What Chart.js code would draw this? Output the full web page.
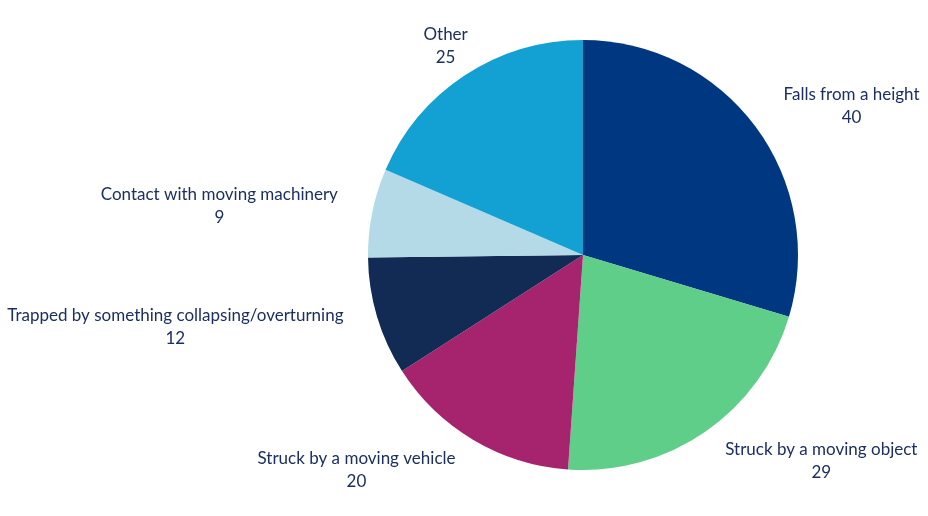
<!DOCTYPE html>
<html>
<head>
<meta charset="utf-8">
<script src="https://cdn.jsdelivr.net/npm/chart.js@4"></script>
<style>
  html, body { margin: 0; padding: 0; background: #fff; }
  #wrap { width: 928px; height: 516px; }
</style>
</head>
<body>
<div id="wrap"><canvas id="pie" width="928" height="516"></canvas></div>
<script>
const categories = [
  'Falls from a height',
  'Struck by a moving object',
  'Struck by a moving vehicle',
  'Trapped by something collapsing/overturning',
  'Contact with moving machinery',
  'Other'
];
const values = [40, 29, 20, 12, 9, 25];
const colours = ['#003781', '#5FCE89', '#A6246E', '#122B54', '#B3DAE6', '#13A0D3'];

// labels sitting outside each slice: name on first line, value below
const outsideLabels = {
  id: 'outsideLabels',
  afterDraw(chart) {
    const ctx = chart.ctx;
    const meta = chart.getDatasetMeta(0);
    ctx.save();
    ctx.font = '17px Lato, "Open Sans", sans-serif';
    ctx.fillStyle = '#1B2F63';
    ctx.textBaseline = 'middle';
    const lineH = 23;
    meta.data.forEach((arc, i) => {
      const mid = (arc.startAngle + arc.endAngle) / 2;
      const r = arc.outerRadius + 35;
      const x = arc.x + Math.cos(mid) * r;
      const y = arc.y + Math.sin(mid) * r;
      const up = -Math.sin(mid);
      let align;
      if (up > 0.8) align = 'center';
      else align = Math.cos(mid) >= 0 ? 'left' : 'right';
      const lines = [categories[i], String(values[i])];
      const w = Math.max(...lines.map(t => ctx.measureText(t).width));
      // centre the two lines on each other
      let cx = x;
      if (align === 'left') cx = x + w / 2;
      if (align === 'right') cx = x - w / 2;
      ctx.textAlign = 'center';
      lines.forEach((t, k) => {
        ctx.fillText(t, cx, y - lineH / 2 + k * lineH);
      });
    });
    ctx.restore();
  }
};

new Chart(document.getElementById('pie').getContext('2d'), {
  type: 'pie',
  data: {
    labels: categories,
    datasets: [{
      data: values,
      backgroundColor: colours,
      borderWidth: 0
    }]
  },
  options: {
    responsive: false,
    animation: false,
    layout: { padding: { left: 368, right: 130, top: 40, bottom: 46 } },
    plugins: {
      legend: { display: false },
      tooltip: { enabled: false }
    }
  },
  plugins: [outsideLabels]
});
</script>
</body>
</html>
